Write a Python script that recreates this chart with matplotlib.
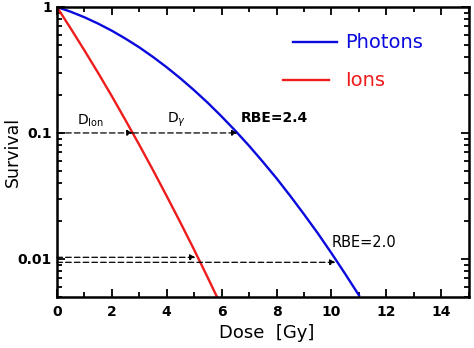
import numpy as np
import matplotlib
matplotlib.use("Agg")
import matplotlib.pyplot as plt
from matplotlib.ticker import MultipleLocator, LogLocator, NullFormatter, FixedFormatter, FixedLocator

# dose [Gy] and surviving fraction
photon_dose = [0, 0.5, 1, 1.5, 2, 2.5, 3, 3.5, 4, 4.5, 5, 5.5, 6, 6.5, 7, 7.5, 8, 8.5, 9, 9.5, 10, 10.5, 11]
photon_surv = [1.0, 0.917, 0.829, 0.738, 0.648, 0.560, 0.478, 0.401, 0.332, 0.271, 0.218, 0.173,
               0.135, 0.104, 0.079, 0.059, 0.0436, 0.0316, 0.0226, 0.0160, 0.0111, 0.0076, 0.00514]
ion_dose = [0, 0.5, 1, 1.5, 2, 2.5, 3, 3.5, 4, 4.5, 5, 5.5, 6]
ion_surv = [1.0, 0.677, 0.453, 0.300, 0.196, 0.126, 0.0805, 0.0507, 0.0315, 0.0194, 0.0118, 0.00706, 0.00418]

# iso-effect doses
d_ion_10, d_ph_10 = 2.76, 6.58
d_ion_1, d_ph_1 = 5.05, 10.15
y_ticks = [1, 0.1, 0.01]
y_labels = ["1", "0.1", "0.01"]

fig = plt.figure(figsize=(4.74, 3.48), dpi=100)
ax = fig.add_axes([0.120, 0.147, 0.869, 0.833])

blue = "#0a0adc"
red = "#ee1c1c"
ax.plot(photon_dose, photon_surv, color=blue, lw=1.7)
ax.plot(ion_dose, ion_surv, color=red, lw=1.7)

ax.set_yscale("log")
ax.set_xlim(0, 15)
ax.set_ylim(0.005, 1)

# dashed iso-effect lines with arrows
def dash_arrow(x0, x1, y):
    ax.annotate("", xy=(x1, y), xytext=(x0, y),
                arrowprops=dict(arrowstyle="-|>", ls=(0, (4.5, 2.5)), lw=0.9, color="black",
                                mutation_scale=8, shrinkA=0, shrinkB=0))

dash_arrow(0, d_ion_10, 0.1)
dash_arrow(d_ion_10, d_ph_10, 0.1)
dash_arrow(0, d_ion_1, 0.0103)
dash_arrow(0, d_ph_1, 0.0094)

ax.text(0.75, 0.107, r"D$_{\rm Ion}$", fontsize=10, ha="left", va="bottom")
ax.text(4.0, 0.107, r"D$_{\gamma}$", fontsize=10, ha="left", va="bottom")
ax.text(6.7, 0.115, "RBE=2.4", fontsize=10, fontweight="bold", ha="left", va="bottom")
ax.text(10.0, 0.0118, "RBE=2.0", fontsize=10.5, ha="left", va="bottom")

# legend drawn by hand
ax.plot([0.573, 0.680], [0.879, 0.879], color=blue, lw=1.7, transform=ax.transAxes)
ax.plot([0.550, 0.660], [0.748, 0.748], color=red, lw=1.7, transform=ax.transAxes)
ax.text(0.699, 0.879, "Photons", color=blue, fontsize=14, va="center", transform=ax.transAxes)
ax.text(0.699, 0.748, "Ions", color=red, fontsize=14, va="center", transform=ax.transAxes)

ax.xaxis.set_major_locator(MultipleLocator(2))
ax.xaxis.set_minor_locator(MultipleLocator(1))
ax.yaxis.set_major_locator(FixedLocator(y_ticks))
ax.yaxis.set_major_formatter(FixedFormatter(y_labels))
ax.yaxis.set_minor_locator(LogLocator(base=10, subs=np.arange(2, 10)))
ax.yaxis.set_minor_formatter(NullFormatter())
ax.tick_params(which="both", direction="in", top=True, right=True, width=1.3)
ax.tick_params(which="major", length=6, labelsize=10)
ax.tick_params(axis="x", which="major", pad=6)
ax.tick_params(which="minor", length=3.5)
for lab in ax.get_xticklabels() + ax.get_yticklabels():
    lab.set_fontweight("bold")
for s in ax.spines.values():
    s.set_linewidth(1.8)

ax.set_xlabel("Dose  [Gy]", fontsize=13)
ax.set_ylabel("Survival", fontsize=12.5)
ax.xaxis.set_label_coords(0.51, -0.095)
ax.yaxis.set_label_coords(-0.085, 0.5)

fig.savefig("out.png", dpi=100)
